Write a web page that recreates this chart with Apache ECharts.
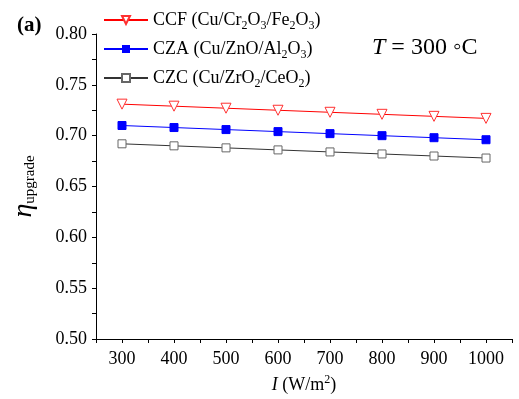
<!DOCTYPE html>
<html><head><meta charset="utf-8">
<script src="https://cdn.jsdelivr.net/npm/echarts@6/dist/echarts.min.js"></script>
<style>html,body{margin:0;padding:0;background:#fff}#c{width:519px;height:399px}</style>
</head><body><div id="c"></div>
<script>
const xValues = [300, 400, 500, 600, 700, 800, 900, 1000];
const ccf = [0.731, 0.729, 0.727, 0.725, 0.723, 0.721, 0.719, 0.717];
const cza = [0.710, 0.708, 0.706, 0.704, 0.702, 0.700, 0.698, 0.696];
const czc = [0.692, 0.690, 0.688, 0.686, 0.684, 0.682, 0.680, 0.678];
const seriesNames = ['CCF', 'CZA', 'CZC'];
const legendLabels = {
  CCF: 'CCF (Cu/Cr{s|2}O{s|3}/Fe{s|2}O{s|3})',
  CZA: 'CZA (Cu/ZnO/Al{s|2}O{s|3})',
  CZC: 'CZC (Cu/ZrO{s|2}/CeO{s|2})'
};
const FONT = 'Liberation Serif';
const pair = a => a.map((v, i) => [xValues[i], v]);
const lab = {t: {fontFamily: FONT, fontSize: 18, color: '#000'}};
const chart = echarts.init(document.getElementById('c'));
chart.setOption({
  animation: false,
  textStyle: {fontFamily: FONT, color: '#000'},
  grid: {left: 96, right: 7, top: 34, bottom: 59},
  legend: {
    left: 98, top: 6, orient: 'vertical', itemGap: 8, itemWidth: 44, itemHeight: 10,
    data: seriesNames,
    formatter: n => legendLabels[n],
    textStyle: {fontFamily: FONT, fontSize: 18, color: '#000',
      rich: {s: {fontFamily: FONT, fontSize: 12, padding: [12, 0, 0, 0], color: '#000'}}}
  },
  xAxis: {
    type: 'value', min: 250, max: 1050, interval: 50,
    name: '{i|I} (W/m{p|2})', nameLocation: 'middle', nameGap: 35,
    nameTextStyle: {fontFamily: FONT, fontSize: 18, color: '#000',
      rich: {i: {fontFamily: FONT, fontStyle: 'italic', fontSize: 18}, p: {fontFamily: FONT, fontSize: 12, padding: [0, 0, 10, 0]}}},
    axisLine: {onZero: false, lineStyle: {color: '#000', width: 1}},
    axisTick: {inside: false, length: 4, lineStyle: {color: '#000'}},
    axisLabel: {fontFamily: FONT, fontSize: 18, color: '#000', margin: 11, rich: lab,
      formatter: v => (Math.round(v) % 100 === 0 && v >= 300 && v <= 1000) ? '{t|' + v + '}' : ''},
    splitLine: {show: false}
  },
  yAxis: {
    type: 'value', min: 0.5, max: 0.8, interval: 0.025,
    name: '{e|η}{s|upgrade}', nameLocation: 'middle', nameGap: 58, nameRotate: 90,
    nameTextStyle: {fontFamily: FONT, color: '#000',
      rich: {e: {fontFamily: FONT, fontStyle: 'italic', fontSize: 28}, s: {fontFamily: FONT, fontSize: 15, padding: [14, 0, 0, 0]}}},
    axisLine: {show: true, onZero: false, lineStyle: {color: '#000', width: 1}},
    axisTick: {show: true, length: 4, lineStyle: {color: '#000'}},
    axisLabel: {fontFamily: FONT, fontSize: 18, color: '#000', margin: 9, rich: lab,
      formatter: v => (Math.round(v * 1000) % 50 === 0) ? '{t|' + v.toFixed(2) + '}' : ''},
    splitLine: {show: false}
  },
  series: [
    {name: 'CCF', type: 'line', data: pair(ccf), symbol: 'triangle', symbolRotate: 180, symbolSize: 10,
      lineStyle: {color: '#ff0000', width: 1}, itemStyle: {color: '#fff', borderColor: '#ff3030', borderWidth: 1}, color: '#ff0000'},
    {name: 'CZA', type: 'line', data: pair(cza), symbol: 'rect', symbolSize: 8,
      lineStyle: {color: '#0000ff', width: 1}, itemStyle: {color: '#0000ff', borderColor: '#0000ff'}, color: '#0000ff'},
    {name: 'CZC', type: 'line', data: pair(czc), symbol: 'rect', symbolSize: 8,
      lineStyle: {color: '#333', width: 1}, itemStyle: {color: '#fff', borderColor: '#666', borderWidth: 1}, color: '#333'}
  ],
  graphic: [
    {type: 'text', left: 17, top: 15, style: {text: '(a)', font: 'bold 21px "Liberation Serif"', fill: '#000'}},
    {type: 'text', left: 372, top: 36, style: {text: '{i|T} = 300 ◦C', fill: '#000',
      font: '24px "Liberation Serif"', rich: {i: {fontStyle: 'italic', fontFamily: FONT, fontSize: 24}}}}
  ]
});
</script></body></html>
